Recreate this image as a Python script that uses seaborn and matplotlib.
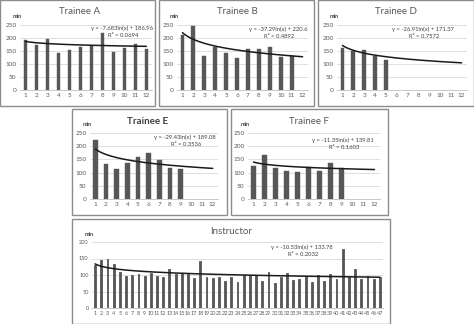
import numpy as np
import pandas as pd
import matplotlib
matplotlib.use("Agg")
import matplotlib.pyplot as plt
import seaborn as sns
from matplotlib.patches import Rectangle

sns.set_theme(style="white")
plt.rcParams['font.family'] = ['Lato', 'DejaVu Sans']

# ---------------- data ----------------
sessions_12 = [str(i) for i in range(1, 13)]
sessions_47 = [str(i) for i in range(1, 48)]

trainee_a = [192, 173, 198, 142, 153, 167, 170, 218, 148, 163, 177, 158]
trainee_b = [212, 248, 130, 167, 143, 122, 158, 156, 165, 126, 130]
trainee_d = [160, 150, 155, 132, 115]
trainee_e = [222, 133, 115, 135, 160, 173, 147, 118, 113]
trainee_f = [125, 168, 118, 107, 103, 122, 107, 135, 116]
instructor = [131, 145, 148, 133, 109, 98, 99, 103, 98, 106, 98, 95, 119, 104,
              105, 104, 90, 143, 93, 90, 94, 81, 95, 78, 99, 100, 100, 81, 108,
              77, 94, 106, 86, 88, 98, 80, 100, 83, 103, 88, 180, 95, 119, 88,
              98, 87, 94]

# trendline coefficients shown on the chart: y = slope*ln(x) + intercept
slopes = {"A": -7.683, "B": -37.29, "D": -26.91, "E": -29.43, "F": -11.35, "I": -10.53}
intercepts = {"A": 186.96, "B": 220.6, "D": 171.37, "E": 189.08, "F": 139.81, "I": 133.78}
eq_text = {"A": ("y = -7.683ln(x) + 186.96", "R² = 0.0694"),
           "B": ("y = -37.29ln(x) + 220.6", "R² = 0.4892"),
           "D": ("y = -26.91ln(x) + 171.37", "R² = 0.7572"),
           "E": ("y = -29.43ln(x) + 189.08", "R² = 0.3536"),
           "F": ("y = -11.35ln(x) + 139.81", "R² = 0.1603"),
           "I": ("y = -10.53ln(x) + 133.78", "R² = 0.2032")}
titles = {"A": "Trainee A", "B": "Trainee B", "D": "Trainee D",
          "E": "Trainee E", "F": "Trainee F", "I": "Instructor"}

# ---------------- layout ----------------
W, H = 474, 324
fig = plt.figure(figsize=(W / 100, H / 100), dpi=100)
fig.patch.set_facecolor("white")

BAR = "#575757"
TXT = "#595959"
GRID = "#d9d9d9"
BORDER = "#8c8c8c"


def fx(x):
    return x / W


def fy(y):
    return 1 - y / H


def panel(key, vals, cats, box, plot, ymax, step, eq_pos, title_pos, bw,
          bold=False, elw=0.3):
    bx0, by0, bx1, by1 = box
    fig.add_artist(Rectangle((fx(bx0), fy(by1)), fx(bx1 - bx0), (by1 - by0) / H,
                             transform=fig.transFigure, fill=False,
                             edgecolor=BORDER, lw=1.0))
    px0, py0, px1, py1 = plot
    ax = fig.add_axes([fx(px0), fy(py1), fx(px1 - px0), (py1 - py0) / H])
    df = pd.DataFrame({"session": cats[:len(vals)], "min": vals})
    sns.barplot(data=df, x="session", y="min", order=cats, color=BAR,
                saturation=1, width=bw, ax=ax, zorder=2,
                edgecolor=BAR, linewidth=elw)
    n = len(cats)
    xs = np.linspace(1, n, 200)
    ax.plot(xs - 1, slopes[key] * np.log(xs) + intercepts[key],
            color="#1a1a1a", lw=1.1, zorder=3)
    ax.set_xlim(-0.5, n - 0.5)
    ax.set_ylim(0, ymax)
    ax.set_yticks(np.arange(0, ymax + 1, step))
    ax.yaxis.grid(True, color=GRID, lw=0.6)
    ax.set_axisbelow(True)
    for s in ["left", "right", "top"]:
        ax.spines[s].set_visible(False)
    ax.spines["bottom"].set_color("#bfbfbf")
    ax.spines["bottom"].set_linewidth(0.6)
    ax.set_xlabel("")
    ax.set_ylabel("")
    ax.tick_params(axis="both", length=0, labelsize=4.6 if n <= 12 else 4.0,
                   colors=TXT, pad=2.5)
    ax.set_facecolor("none")
    # "min" unit label
    fig.text(fx(px0 - 3), fy(py0 - 8), "min", fontsize=4, color="#404040",
             ha="center", va="center", fontweight="bold")
    # title
    fig.text(fx(title_pos[0]), fy(title_pos[1]), titles[key], fontsize=7,
             color="#404040" if bold else TXT, ha="center", va="center",
             fontweight="bold" if bold else "normal")
    # equation
    l1, l2 = eq_text[key]
    fig.text(fx(eq_pos[0]), fy(eq_pos[1]), l1, fontsize=4.2, color="#404040",
             ha="center", va="center")
    fig.text(fx(eq_pos[0] + 1), fy(eq_pos[1] + 7.5), l2, fontsize=4.2,
             color="#404040", ha="center", va="center")
    return ax


panel("A", trainee_a, sessions_12, (0, 0, 155, 106), (20, 25, 152, 90), 250, 50,
      (122, 28), (80, 11), 0.35)
panel("B", trainee_b, sessions_12, (159, 0, 314, 106), (177, 25, 308, 90), 250, 50,
      (278, 29), (237, 11), 0.35)
panel("D", trainee_d, sessions_12, (318, 0, 474, 106), (337, 25, 467, 90), 250, 50,
      (423, 29), (396, 11), 0.35)
panel("E", trainee_e, sessions_12, (72, 109, 227, 215), (90, 133, 218, 199), 250, 50,
      (185, 137), (148, 121), 0.45, bold=True)
panel("F", trainee_f, sessions_12, (231, 109, 388, 215), (248, 133, 380, 199), 250, 50,
      (343, 140), (309, 121), 0.45)
panel("I", instructor, sessions_47, (72, 219, 390, 324), (92, 242, 383, 308), 200, 50,
      (302, 247), (231, 231), 0.3, elw=0.6)

fig.savefig("out.png", dpi=100, facecolor="white")
